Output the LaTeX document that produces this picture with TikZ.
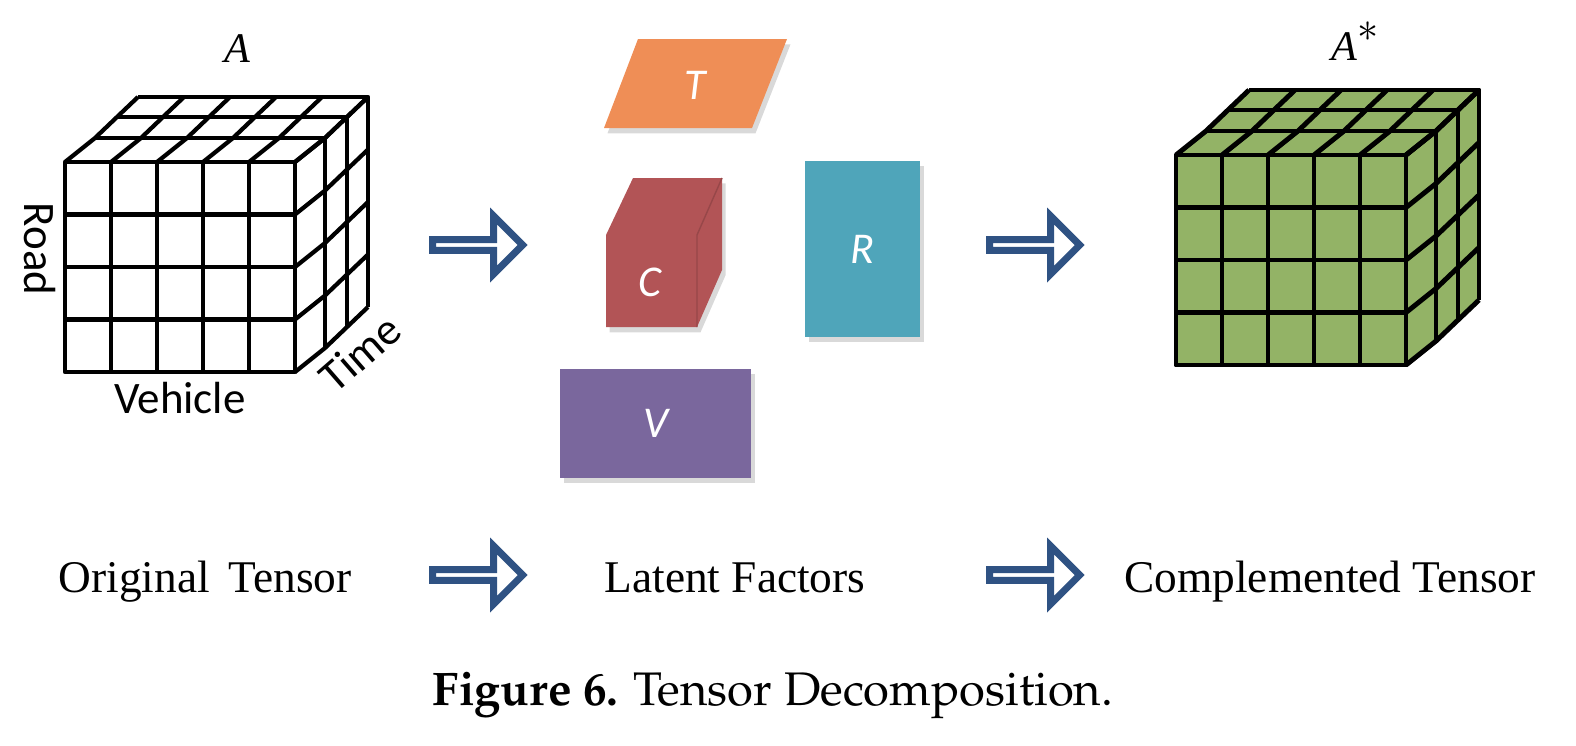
\documentclass[tikz,border=0pt]{standalone}
\usepackage[T1]{fontenc}
\usepackage{fontspec}
\setmainfont{Liberation Serif}
\newfontfamily\calibri{Carlito}
\usetikzlibrary{shapes.arrows,shadows}

\definecolor{arrowblue}{HTML}{2F5283}
\definecolor{orangeT}{HTML}{EF8E56}
\definecolor{redC}{HTML}{B25456}
\definecolor{tealR}{HTML}{4FA5BA}
\definecolor{purpleV}{HTML}{7A679D}
\definecolor{greenA}{HTML}{93B366}

\tikzset{
  gridline/.style={line width=1.2pt, line join=round},
  blockarrow/.style={single arrow, draw=arrowblue, fill=white,
    line width=2pt, inner sep=0pt, minimum height=0.9cm,
    minimum width=0.58cm, single arrow head extend=0.155cm},
  factor/.style={drop shadow={opacity=0.3, shadow xshift=1pt,
    shadow yshift=-1.5pt}},
  letter/.style={text=white, font=\calibri\itshape\fontsize{12.5}{14}\selectfont},
  axislabel/.style={font=\calibri\fontsize{12.8}{15}\selectfont},
  steplabel/.style={font=\fontsize{12.9}{15}\selectfont, anchor=base},
}

% one tensor drawn as 5x4x3 cells, front top left corner at (0,0)
\newcommand\tensorcube[1]{
  \def\cw{46}
  \def\ch{52.5}
  \path[fill=#1] (0,0) rectangle (230,210);
  \path[fill=#1] (0,0) -- (230,0) -- (303,-65) -- (73,-65) -- cycle;
  \path[fill=#1] (230,0) -- (303,-65) -- (303,145) -- (230,210) -- cycle;
  \draw[gridline] (0,0) rectangle (230,210);
  \foreach \i in {1,...,4}
    \draw[gridline] (\i*\cw,0) -- (\i*\cw,210);
  \foreach \j in {1,...,3}
    \draw[gridline] (0,\j*\ch) -- (230,\j*\ch);
  % top face and right face
  \foreach \i in {0,...,5}
    \draw[gridline] (\i*\cw,0) -- (\i*\cw+30,-24)
      -- (\i*\cw+52,-45) -- (\i*\cw+73,-65);
  \foreach \j in {0,...,4}
    \draw[gridline] (230,\j*\ch) -- (260,\j*\ch-24)
      -- (282,\j*\ch-45) -- (303,\j*\ch-65);
  \foreach \dx/\dy in {30/24,52/45,73/65}
    \draw[gridline] (\dx,-\dy) -- (230+\dx,-\dy) -- (230+\dx,210-\dy);
}

\begin{document}
\begin{tikzpicture}[x=0.01cm, y=-0.01cm]
\useasboundingbox (0,0) rectangle (1576,745);

% original tensor
\begin{scope}[shift={(65,162)}]
  \tensorcube{white}
\end{scope}
\node[font=\fontsize{12}{14}\selectfont\itshape, anchor=base] (A) at (237,62) {A};
\node[axislabel, rotate=-90] (road) at (40,249) {Road};
\node[axislabel, anchor=base] (vehicle) at (180,413) {Vehicle};
\node[axislabel, rotate=41] (time) at (360,353) {Time};

% latent factors
\path[fill=orangeT, factor] (638,39) -- (787,39) -- (752,128)
    -- (604,128) -- cycle;
\node[letter] (T) at (695,85) {T};
\path[fill=redC, factor] (606,235) -- (633,178) -- (722,178)
    -- (722,270) -- (697,327) -- (606,327) -- cycle;
\draw[redC!85!black, line width=0.4pt] (722,178) -- (697,235) -- (697,327);
\node[letter] (C) at (650,282) {C};
\path[fill=tealR, factor] (805,161) rectangle (920,337)
    node[midway, letter] (R) {R};
\path[fill=purpleV, factor] (560,369) rectangle (751,478)
    node[midway, letter] (V) {V};

% complemented tensor
\begin{scope}[shift={(1176,155)}, gridline/.append style={line width=1.4pt}]
  \tensorcube{greenA}
\end{scope}
\node[font=\fontsize{12}{14}\selectfont, anchor=base, inner sep=1pt] (Astar) at (1356,60)
    {\itshape A$^{\raisebox{1pt}{$\ast$}}$};

% arrows
\node[blockarrow] (arrTop1) at (475,245) {};
\node[blockarrow] (arrTop2) at (1032,245) {};
\node[blockarrow] (arrBot1) at (475,575) {};
\node[blockarrow] (arrBot2) at (1032,575) {};

% step names
\node[steplabel] (orig) at (205,592) {Original\,\ Tensor};
\node[steplabel] (latent) at (735,592) {Latent Factors};
\node[steplabel] (compl) at (1330,592) {Complemented Tensor};

% caption
\node[font=\fontencoding{T1}\fontfamily{ppl}\fontsize{13.4}{16}\selectfont, anchor=base]
    (caption) at (773,705) {\textbf{Figure 6.} Tensor Decomposition.};
\end{tikzpicture}
\end{document}
